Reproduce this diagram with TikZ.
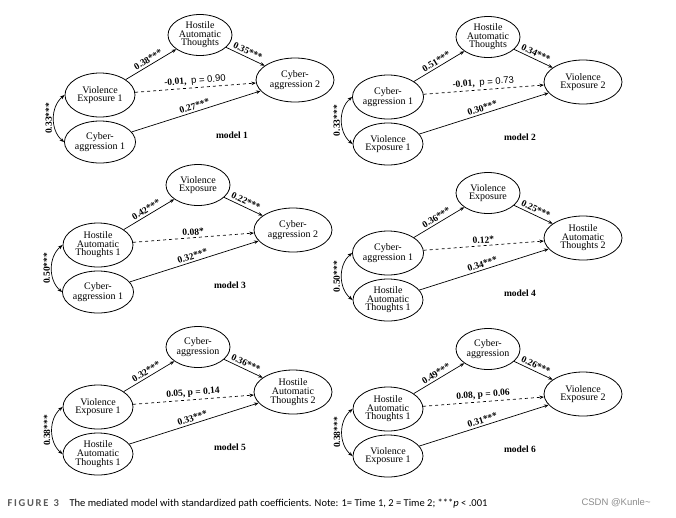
\documentclass[tikz,border=0pt]{standalone}
\usepackage{fontspec}
\setmainfont{Liberation Serif}
\newfontfamily\capf{Carlito}
\newfontfamily\wmf{Liberation Sans}
\usetikzlibrary{shapes.geometric,arrows.meta}
\tikzset{
  el/.style={ellipse,draw,line width=0.8pt,inner sep=0pt,align=center,font=\fontsize{10}{8.6}\selectfont},
  path/.style={-{Stealth[length=4.5pt,width=3.5pt]},line width=0.7pt},
  dpath/.style={path,dashed},
  coef/.style={font=\bfseries\fontsize{9.5}{10}\selectfont,sloped,above,inner sep=2pt},
  ccoef/.style={font=\bfseries\fontsize{9.5}{10}\selectfont,rotate=90,anchor=south,inner sep=1.5pt},
  mlab/.style={font=\bfseries\fontsize{9.5}{10}\selectfont}
}
\newcommand\mymodel[6]{%
  \node[el,minimum width=70pt,minimum height=44pt] (#1l) at (100,95) {#2};
  \node[el,minimum width=70pt,minimum height=42pt] (#1b) at (100,142) {#3};
  \node[el,minimum width=64pt,minimum height=41pt] (#1m) at (200,35) {#4};
  \node[el,minimum width=78pt,minimum height=44pt] (#1o) at (295,80) {#5};
  \node[mlab] (#1t) at (232,135) {model #6};
  \draw[path] (#1l) -- node[coef]{\cA} (#1m);
  \draw[path] (#1m) -- node[coef]{\cB} (#1o);
  \draw[dpath] (#1l) -- node[coef]{\cC} (#1o);
  \draw[path] (#1b) -- node[coef]{\cD} (#1o);
  \draw[{Stealth[length=4.5pt,width=3.5pt]}-{Stealth[length=4.5pt,width=3.5pt]},line width=0.7pt] (#1l.west) to[bend right=50] node[ccoef]{\cE} (#1b.west);
}
\newcommand\pv[1]{{\wmf\mdseries\fontsize{9.5}{10}\selectfont #1}}
\begin{document}
\begin{tikzpicture}[x=1pt,y=-1pt]
\useasboundingbox (0,0) rectangle (676,517);
\begin{scope}[shift={(0,0)}]
\def\cA{0.38***}\def\cB{0.35***}\def\cC{-0.01,\enspace\pv{p = 0.90}}\def\cD{0.27***}\def\cE{0.33***}
\mymodel{a}{Violence\\Exposure 1}{Cyber-\\aggression 1}{Hostile\\Automatic\\Thoughts}{Cyber-\\aggression 2}{1}
\end{scope}
\begin{scope}[shift={(288,2)}]
\def\cA{0.51***}\def\cB{0.34***}\def\cC{-0.01,\enspace\pv{p = 0.73}}\def\cD{0.30***}\def\cE{0.33***}
\mymodel{b}{Cyber-\\aggression 1}{Violence\\Exposure 1}{Hostile\\Automatic\\Thoughts}{Violence\\Exposure 2}{2}
\end{scope}
\begin{scope}[shift={(-2,150)}]
\def\cA{0.42***}\def\cB{0.22***}\def\cC{0.08*}\def\cD{0.32***}\def\cE{0.50***}
\mymodel{c}{Hostile\\Automatic\\Thoughts 1}{Cyber-\\aggression 1}{Violence\\Exposure}{Cyber-\\aggression 2}{3}
\end{scope}
\begin{scope}[shift={(288,158)}]
\def\cA{0.36***}\def\cB{0.25***}\def\cC{0.12*}\def\cD{0.34***}\def\cE{0.50***}
\mymodel{d}{Cyber-\\aggression 1}{Hostile\\Automatic\\Thoughts 1}{Violence\\Exposure}{Hostile\\Automatic\\Thoughts 2}{4}
\end{scope}
\begin{scope}[shift={(-2,312)}]
\def\cA{0.32***}\def\cB{0.36***}\def\cC{0.05, p = 0.14}\def\cD{0.33***}\def\cE{0.38***}
\mymodel{e}{Violence\\Exposure 1}{Hostile\\Automatic\\Thoughts 1}{Cyber-\\aggression}{Hostile\\Automatic\\Thoughts 2}{5}
\end{scope}
\begin{scope}[shift={(288,314)}]
\def\cA{0.49***}\def\cB{0.26***}\def\cC{0.08, p = 0.06}\def\cD{0.31***}\def\cE{0.38***}
\mymodel{f}{Hostile\\Automatic\\Thoughts 1}{Violence\\Exposure 1}{Cyber-\\aggression}{Violence\\Exposure 2}{6}
\end{scope}
\node[anchor=west,font=\capf\fontsize{10.5}{12}\selectfont] (cap) at (4,504) {\textcolor{black!65}{\bfseries F\,I\,G\,U\,R\,E\enspace 3}\quad The mediated model with standardized path coefficients. Note: 1= Time 1, 2 = Time 2; ***\textit{p} < .001};
\node[anchor=west,font=\wmf\fontsize{9.5}{10}\selectfont,text=black!45] (wm) at (578,503) {CSDN @Kunle\textasciitilde};
\end{tikzpicture}
\end{document}
